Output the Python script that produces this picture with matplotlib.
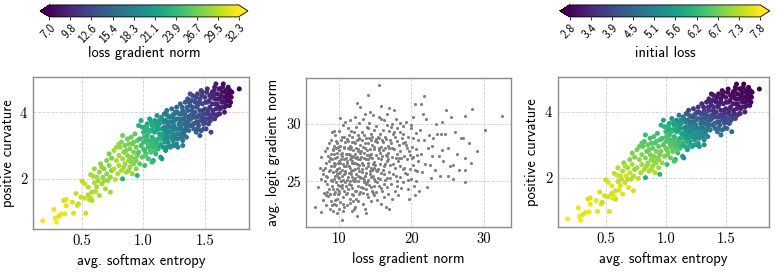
import numpy as np
import matplotlib
matplotlib.use('Agg')
import matplotlib.pyplot as plt
from matplotlib.colors import Normalize

# ---- outer panels: one point per run ----
entropy = [
    0.18, 0.27, 0.28, 0.29, 0.31, 0.33, 0.35, 0.37, 0.37, 0.36, 0.43, 0.45, 0.46, 0.47, 0.49, 0.42,
    0.53, 0.52, 0.55, 0.56, 0.58, 0.50, 0.52, 0.57, 0.59, 0.60, 0.62, 0.61, 0.63, 0.64, 0.65, 0.66, 0.67, 0.68,
    0.69, 0.70, 0.70, 0.71, 0.72, 0.73, 0.74, 0.74, 0.60, 0.62, 0.66, 0.55, 0.58, 0.64, 0.68, 0.72, 0.73, 0.57,
    0.76, 0.76, 0.77, 0.78, 0.79, 0.80, 0.80, 0.81, 0.82, 0.82, 0.83, 0.83, 0.84, 0.85, 0.85, 0.86, 0.87, 0.87,
    0.88, 0.89, 0.89, 0.90, 0.90, 0.91, 0.91, 0.92, 0.92, 0.93, 0.93, 0.94, 0.94, 0.95, 0.95, 0.78, 0.80, 0.84,
    0.86, 0.88, 0.90, 0.92, 0.94, 0.95, 0.88, 0.83,
    0.96, 0.96, 0.97, 0.97, 0.98, 0.98, 0.99, 1.00, 1.00, 1.01, 1.01, 1.02, 1.02, 1.03, 1.03, 1.04, 1.04, 1.05,
    1.05, 1.06, 1.06, 1.07, 1.07, 1.08, 1.08, 1.09, 1.09, 1.10, 1.10, 1.11, 1.11, 1.12, 1.12, 1.13, 1.13, 1.14,
    1.14, 1.15, 1.15, 0.99, 1.00, 1.02, 1.04, 1.06, 1.08, 1.10, 1.12, 1.14, 1.05, 1.09, 1.13, 1.01, 1.15, 1.07,
    1.16, 1.16, 1.17, 1.17, 1.18, 1.18, 1.19, 1.19, 1.20, 1.20, 1.21, 1.21, 1.22, 1.22, 1.23, 1.23, 1.24, 1.24,
    1.25, 1.25, 1.26, 1.26, 1.27, 1.27, 1.28, 1.28, 1.29, 1.29, 1.30, 1.30, 1.31, 1.31, 1.32, 1.32, 1.33, 1.33,
    1.34, 1.34, 1.35, 1.35, 1.17, 1.19, 1.21, 1.23, 1.25, 1.27, 1.29, 1.31, 1.33, 1.18, 1.22, 1.26, 1.30, 1.20,
    1.24, 1.28, 1.32,
    1.36, 1.36, 1.37, 1.37, 1.38, 1.38, 1.39, 1.40, 1.40, 1.41, 1.41, 1.42, 1.42, 1.43, 1.43, 1.44, 1.44, 1.45,
    1.45, 1.46, 1.46, 1.47, 1.47, 1.48, 1.48, 1.49, 1.49, 1.50, 1.50, 1.51, 1.51, 1.52, 1.52, 1.53, 1.53, 1.54,
    1.54, 1.55, 1.55, 1.38, 1.39, 1.43, 1.47, 1.40, 1.44, 1.48, 1.52, 1.36, 1.50, 1.46,
    1.56, 1.56, 1.57, 1.58, 1.58, 1.59, 1.60, 1.60, 1.61, 1.62, 1.62, 1.63, 1.64, 1.64, 1.65, 1.66, 1.66, 1.67,
    1.68, 1.69, 1.70, 1.71, 1.72, 1.78, 1.57, 1.59, 1.61, 1.63, 1.67, 1.70,
    1.005, 1.015, 1.025, 1.035, 1.045, 1.055, 1.065, 1.075, 1.085, 1.095, 1.105, 1.115, 1.125, 1.135, 1.145,
    1.155, 1.165, 1.175, 1.185, 1.195, 1.205, 1.215, 1.225, 1.235, 1.245, 1.255, 1.265, 1.275, 1.285, 1.295,
    1.305, 1.315, 1.325, 1.335, 1.345, 1.355, 1.365, 1.375, 1.385, 1.395, 1.405, 1.415, 1.425, 1.435, 1.445,
    1.455, 1.465, 1.475, 1.485, 1.495, 1.505, 1.515, 1.525, 1.535, 1.545, 1.555, 1.565, 1.575, 1.585, 1.595,
    1.605, 1.615, 1.625, 1.635, 1.645, 1.655, 1.665, 1.675, 1.685, 1.695, 1.705, 1.715,
    1.31, 1.34, 1.37, 1.41, 1.44, 1.49, 1.53, 1.58, 1.62, 1.66, 1.21, 1.25, 1.27, 1.19,
]
curvature = [
    0.74, 1.08, 0.82, 0.70, 0.88, 0.94, 1.35, 1.38, 1.19, 0.95, 0.97, 1.56, 1.20, 1.25, 1.45, 1.30,
    0.97, 1.42, 1.52, 1.37, 1.35, 1.93, 1.86, 2.13, 2.08, 1.88, 1.76, 1.62, 1.95, 2.20, 2.45, 1.85, 2.05, 2.30,
    1.70, 2.55, 2.15, 1.95, 2.40, 1.60, 2.25, 2.62, 2.30, 2.05, 2.35, 1.75, 1.60, 1.50, 1.95, 2.75, 2.05, 1.42,
    2.30, 2.85, 1.98, 2.55, 2.15, 2.70, 2.40, 2.95, 3.10, 2.25, 2.00, 2.60, 2.80, 2.45, 3.00, 2.20, 2.70, 3.20,
    2.55, 2.90, 2.35, 3.25, 2.65, 2.15, 3.05, 2.80, 2.45, 3.35, 2.60, 2.95, 2.30, 3.15, 2.70, 2.95, 3.05, 2.35,
    2.85, 3.05, 2.50, 3.10, 2.55, 2.10, 2.25, 3.30,
    3.60, 2.80, 3.20, 2.45, 3.75, 3.00, 2.65, 3.40, 2.90, 3.55, 2.40, 3.15, 2.75, 3.65, 3.30, 2.95, 2.60, 3.80,
    3.45, 3.10, 2.80, 3.60, 3.25, 2.95, 2.55, 3.75, 3.40, 3.10, 2.75, 3.90, 3.55, 3.20, 2.90, 3.65, 3.35, 3.05,
    2.65, 3.80, 3.50, 3.55, 3.10, 3.45, 3.15, 3.45, 3.20, 3.45, 3.50, 3.30, 3.00, 3.00, 3.00, 2.85, 2.60, 2.50,
    3.20, 2.95, 3.95, 3.55, 3.30, 2.85, 4.05, 3.70, 3.40, 3.10, 3.85, 3.55, 3.25, 2.95, 4.10, 3.70, 3.45, 3.15,
    3.95, 3.60, 3.30, 3.00, 4.15, 3.80, 3.50, 3.20, 3.95, 3.65, 3.35, 4.25, 3.80, 3.50, 3.15, 4.05, 3.65, 3.35,
    4.30, 3.90, 3.55, 3.25, 3.40, 3.20, 3.40, 3.55, 3.80, 3.35, 3.50, 3.95, 3.80, 3.75, 3.85, 4.00, 3.70, 3.60,
    3.00, 2.95, 3.00,
    4.40, 4.05, 3.75, 3.45, 4.20, 3.90, 3.60, 4.50, 4.15, 3.85, 3.50, 4.30, 4.00, 3.70, 3.40, 4.55, 4.20, 3.90,
    3.60, 4.40, 4.05, 3.75, 3.45, 4.60, 4.25, 3.95, 3.65, 4.45, 4.10, 3.80, 3.50, 4.70, 4.30, 3.95, 3.65, 4.50,
    4.15, 3.85, 3.40, 4.55, 4.35, 4.45, 4.65, 3.95, 3.85, 3.85, 3.95, 3.85, 3.70, 3.30,
    4.60, 4.25, 3.95, 4.75, 4.40, 4.10, 4.55, 4.25, 3.95, 4.70, 4.40, 4.15, 4.60, 4.30, 4.85, 4.45, 4.15, 4.65,
    4.35, 4.75, 4.50, 4.30, 4.60, 4.70, 4.50, 4.85, 4.15, 4.50, 4.45, 4.20,
    3.25, 2.70, 3.55, 3.05, 3.40, 2.85, 3.70, 3.05, 3.55, 2.85, 3.65, 3.05, 3.75, 3.20, 3.85,
    3.35, 3.70, 3.10, 3.50, 3.90, 3.25, 3.70, 3.40, 3.90, 3.30, 3.75, 3.50, 4.00, 3.35, 3.80,
    3.55, 4.15, 3.45, 3.95, 3.70, 4.15, 3.60, 4.30, 3.80, 4.05, 3.65, 4.35, 3.85, 4.15, 3.70,
    4.30, 3.90, 4.50, 4.05, 3.80, 4.30, 4.60, 4.05, 4.35, 3.75, 4.45, 4.05, 4.65, 4.25, 3.90,
    4.40, 4.70, 4.10, 4.35, 4.75, 4.30, 4.60, 4.20, 4.55, 4.35, 4.65, 4.45,
    3.25, 3.45, 3.60, 3.65, 3.50, 3.50, 3.80, 3.80, 3.95, 4.00, 3.00, 3.20, 3.05, 2.95,
]
# colour of the left panel: loss gradient norm
loss_grad_norm = [
    32.0, 31.5, 31.8, 32.2, 31.0, 31.4, 30.5, 31.0, 31.2, 31.6, 30.8, 30.2, 30.6, 30.0, 29.8, 30.9,
    30.5, 30.1, 29.6, 29.9, 29.2, 29.5, 30.0, 28.8, 29.0, 29.3, 28.9, 29.4, 28.6, 28.2, 27.8, 28.7, 28.4, 27.9,
    28.8, 27.5, 28.1, 28.3, 27.6, 28.5, 27.4, 27.0, 28.6, 28.9, 28.0, 29.5, 29.1, 29.0, 28.2, 27.2, 27.9, 29.7,
    29.5, 29.0, 29.9, 29.1, 29.5, 28.7, 29.2, 28.1, 27.5, 29.1, 23.0, 28.5, 27.9, 28.6, 27.3, 28.9, 27.8, 27.0,
    28.1, 27.4, 28.4, 26.5, 27.6, 28.3, 26.9, 27.2, 27.8, 26.1, 27.4, 26.6, 27.7, 26.3, 27.0, 28.5, 28.2, 28.8,
    27.6, 27.2, 27.9, 26.7, 27.3, 23.5, 28.2, 26.7,
    23.0, 25.5, 24.3, 26.1, 22.5, 24.9, 25.7, 23.5, 25.0, 22.7, 24.5, 24.1, 25.1, 22.0, 23.3, 24.4, 25.0, 21.3,
    22.5, 23.7, 24.5, 21.7, 23.0, 23.8, 22.5, 21.0, 22.1, 23.0, 23.5, 20.3, 21.4, 22.3, 23.1, 20.8, 21.7, 22.4,
    21.0, 20.0, 20.9, 22.9, 24.5, 23.1, 23.9, 22.7, 23.4, 21.9, 21.3, 21.9, 24.1, 23.4, 22.1, 24.7, 20.7, 24.0,
    19.5, 20.0, 17.5, 18.6, 19.0, 19.6, 17.0, 18.0, 18.6, 19.2, 17.2, 18.0, 18.5, 19.0, 16.4, 17.3, 17.8, 18.3,
    16.5, 17.1, 17.6, 18.2, 15.8, 16.6, 17.0, 17.6, 16.0, 16.6, 17.0, 15.2, 15.8, 16.4, 17.0, 15.3, 15.9, 16.4,
    14.6, 15.2, 15.7, 16.3, 19.0, 19.3, 18.5, 17.8, 16.8, 17.6, 17.0, 15.5, 15.6, 17.8, 17.0, 16.2, 16.2, 18.2,
    18.6, 18.0, 17.5,
    13.8, 14.5, 15.0, 15.6, 14.0, 14.6, 15.0, 13.0, 13.6, 14.2, 14.8, 12.8, 13.4, 14.0, 14.6, 12.2, 12.8, 13.3,
    13.8, 12.0, 12.6, 13.0, 13.5, 11.4, 11.9, 12.4, 12.8, 11.0, 11.6, 12.0, 12.5, 10.4, 10.9, 11.3, 11.8, 10.2,
    10.7, 11.0, 12.0, 13.5, 13.8, 12.6, 11.5, 14.0, 13.6, 12.6, 11.4, 14.8, 12.3, 14.0,
    9.6, 10.0, 10.4, 9.0, 9.4, 9.8, 8.8, 9.2, 9.6, 8.4, 8.7, 9.0, 8.2, 8.5, 7.8, 8.0, 8.4, 7.6,
    7.8, 7.4, 7.5, 7.6, 7.2, 7.0, 9.4, 8.8, 9.5, 8.6, 7.9, 7.8,
    24.5, 26.1, 23.5, 25.1, 23.9, 25.5, 22.5, 24.5, 22.9, 24.9, 22.1, 23.9, 21.3, 23.3, 20.5,
    22.1, 19.0, 20.8, 19.4, 18.0, 19.8, 18.4, 19.0, 17.4, 18.8, 17.4, 17.8, 16.4, 17.8, 16.4,
    16.8, 15.2, 16.6, 15.4, 15.6, 14.6, 15.4, 13.8, 14.6, 14.0, 14.6, 13.2, 13.8, 13.0, 13.8,
    12.4, 13.0, 11.6, 12.2, 12.6, 11.2, 10.6, 11.4, 10.6, 11.6, 10.0, 10.2, 9.2, 9.6, 10.2,
    9.0, 8.6, 9.2, 8.8, 8.0, 8.4, 7.8, 8.2, 7.6, 7.6, 7.2, 7.4,
    17.2, 16.2, 15.2, 14.4, 14.2, 13.2, 11.6, 10.8, 9.8, 8.9, 19.6, 18.6, 18.6, 20.0,
]
# colour of the right panel: initial loss
initial_loss = [
    7.8, 7.7, 7.8, 7.8, 7.6, 7.7, 7.5, 7.6, 7.7, 7.7, 7.6, 7.5, 7.6, 7.4, 7.5, 7.7,
    7.6, 7.5, 7.4, 7.6, 7.3, 7.4, 7.6, 7.3, 7.5, 7.4, 7.5, 7.6, 7.3, 7.2, 7.0, 7.4, 7.5, 7.1,
    7.6, 6.9, 7.4, 7.3, 7.2, 7.5, 7.0, 6.9, 7.2, 7.4, 7.3, 7.6, 7.5, 7.6, 7.3, 6.8, 7.2, 7.7,
    7.1, 6.8, 7.3, 7.0, 7.2, 6.9, 7.1, 6.5, 6.4, 7.2, 5.9, 6.9, 6.7, 7.0, 6.6, 7.2, 6.8, 6.3,
    7.0, 6.7, 7.1, 6.4, 6.9, 7.2, 6.6, 6.8, 7.0, 6.2, 6.9, 6.6, 7.1, 6.4, 6.8, 6.7, 6.6, 7.1,
    6.7, 6.5, 7.0, 6.5, 6.9, 6.0, 7.2, 6.2,
    6.0, 6.8, 6.4, 7.0, 5.8, 6.6, 6.9, 6.2, 6.7, 6.0, 6.3, 6.4, 6.8, 5.7, 6.2, 6.6, 6.7, 5.5,
    6.0, 6.3, 6.6, 5.6, 6.1, 6.4, 5.9, 5.2, 5.9, 6.2, 6.3, 5.0, 5.6, 6.0, 6.2, 5.4, 5.8, 6.1,
    5.5, 4.9, 5.5, 6.1, 6.5, 6.0, 6.4, 5.9, 6.3, 5.7, 5.5, 5.8, 6.5, 6.3, 6.0, 6.7, 5.4, 6.4,
    5.6, 5.9, 4.3, 5.0, 5.5, 5.8, 3.9, 4.8, 5.3, 5.6, 4.4, 5.0, 5.4, 5.7, 3.7, 4.6, 5.1, 5.5,
    4.1, 4.8, 5.2, 5.6, 3.6, 4.4, 4.9, 5.3, 4.0, 4.6, 5.1, 3.4, 4.3, 4.8, 5.3, 3.8, 4.5, 5.0,
    3.3, 4.0, 4.7, 5.1, 5.4, 5.6, 5.2, 4.9, 4.5, 5.1, 4.8, 4.0, 4.2, 4.6, 4.2, 3.9, 4.5, 4.9,
    5.7, 5.5, 5.4,
    3.2, 3.7, 4.3, 4.8, 3.4, 4.0, 4.5, 3.1, 3.5, 3.9, 4.6, 3.2, 3.6, 4.2, 4.8, 3.0, 3.4, 3.8,
    4.3, 3.1, 3.5, 4.0, 4.6, 3.0, 3.3, 3.7, 4.2, 3.1, 3.4, 3.9, 4.5, 2.9, 3.2, 3.6, 4.1, 3.0,
    3.3, 3.7, 4.6, 3.1, 3.3, 3.1, 3.0, 3.8, 4.0, 3.8, 3.6, 4.1, 4.0, 4.7,
    2.9, 3.2, 3.5, 2.9, 3.0, 3.3, 2.9, 3.1, 3.4, 2.8, 3.0, 3.2, 2.9, 3.0, 2.8, 2.9, 3.1, 2.8,
    2.9, 2.8, 2.8, 2.9, 2.8, 2.8, 3.0, 2.8, 3.2, 2.9, 2.9, 3.0,
    6.4, 6.8, 6.1, 6.5, 6.2, 6.7, 5.7, 6.4, 5.9, 6.6, 5.6, 6.3, 5.2, 6.0, 4.9,
    5.7, 5.0, 5.9, 5.3, 4.4, 5.6, 4.7, 5.3, 4.2, 5.4, 4.6, 5.0, 3.8, 5.2, 4.3,
    4.8, 3.5, 5.0, 4.0, 4.5, 3.5, 4.6, 3.3, 4.1, 3.6, 4.4, 3.2, 3.9, 3.4, 4.2,
    3.2, 3.7, 3.0, 3.4, 3.9, 3.2, 2.9, 3.4, 3.1, 3.9, 3.0, 3.3, 2.9, 3.1, 3.5,
    3.0, 2.8, 3.2, 3.0, 2.8, 3.0, 2.9, 3.1, 2.9, 2.9, 2.8, 2.8,
    5.2, 4.9, 4.7, 4.5, 4.6, 4.4, 4.0, 3.8, 3.5, 3.3, 5.8, 5.5, 5.6, 5.9,
]

# ---- middle panel ----
grad_norm = [
    7.2, 7.5, 7.6, 7.8, 7.9, 8.0, 8.1, 8.2, 8.3, 8.3, 8.4, 8.5, 8.6, 8.6, 8.7, 8.8, 8.8, 8.9, 8.9, 9.0,
    8.4, 8.7, 7.9, 8.2, 9.0, 6.8, 7.6, 7.4,
    9.1, 9.1, 9.2, 9.2, 9.3, 9.3, 9.4, 9.4, 9.5, 9.5, 9.5, 9.6, 9.6, 9.7, 9.7, 9.8, 9.8, 9.9, 9.9, 10.0,
    10.0, 10.0, 10.1, 10.1, 10.2, 10.2, 10.3, 10.3, 10.4, 10.4, 10.5, 10.5, 10.6, 10.6, 10.7, 10.7, 10.8, 10.8,
    10.9, 10.9, 11.0, 11.0, 9.2, 9.4, 9.6, 9.8, 10.0, 10.2, 10.4, 10.6, 10.8, 11.0, 9.5, 9.9, 10.3, 10.7,
    9.3, 9.7, 10.1, 10.5, 10.9, 9.6, 10.0, 10.4, 10.8, 9.8, 10.6, 10.2, 9.1, 10.9,
    11.1, 11.1, 11.2, 11.2, 11.3, 11.3, 11.4, 11.4, 11.5, 11.5, 11.6, 11.6, 11.7, 11.7, 11.8, 11.8, 11.9, 11.9,
    12.0, 12.0, 12.1, 12.1, 12.2, 12.2, 12.3, 12.3, 12.4, 12.4, 12.5, 12.5, 12.5, 12.6, 12.6, 12.7, 12.7, 12.8,
    12.8, 12.9, 12.9, 13.0, 13.0, 11.2, 11.4, 11.6, 11.8, 12.0, 12.2, 12.4, 12.6, 12.8, 11.3, 11.5, 11.7, 11.9,
    12.1, 12.3, 12.5, 12.7, 12.9, 11.1, 11.5, 11.9, 12.3, 12.7, 11.6, 12.0, 12.4, 12.8, 11.4, 12.2, 11.8, 12.6,
    13.0, 12.1, 11.7,
    13.1, 13.1, 13.2, 13.2, 13.3, 13.3, 13.4, 13.4, 13.5, 13.5, 13.6, 13.6, 13.7, 13.7, 13.8, 13.8, 13.9, 13.9,
    14.0, 14.0, 14.0, 14.1, 14.1, 14.2, 14.2, 14.3, 14.3, 14.4, 14.4, 14.5, 14.5, 14.6, 14.6, 14.7, 14.7, 14.8,
    14.8, 14.9, 14.9, 15.0, 13.2, 13.4, 13.6, 13.8, 14.0, 14.2, 14.4, 14.6, 14.8, 13.5, 13.9, 14.3, 14.7, 13.3,
    13.7, 14.1, 14.5, 14.9, 13.6, 14.9,
    15.1, 15.1, 15.2, 15.2, 15.3, 15.3, 15.4, 15.5, 15.5, 15.6, 15.6, 15.7, 15.7, 15.8, 15.8, 15.9, 15.9, 16.0,
    16.0, 16.1, 16.2, 16.2, 16.3, 16.4, 16.4, 16.5, 16.5, 16.6, 16.7, 16.7, 16.8, 16.9, 16.9, 17.0, 17.0, 15.4,
    15.8, 16.1, 16.6, 15.3, 16.3, 16.8, 15.9, 15.6, 16.6,
    17.1, 17.1, 17.2, 17.3, 17.3, 17.4, 17.5, 17.5, 17.6, 17.6, 17.7, 17.8, 17.8, 17.9, 18.0, 18.0, 18.1, 18.2,
    18.2, 18.3, 18.4, 18.5, 18.5, 18.6, 18.7, 18.8, 18.9, 18.9, 19.0, 17.4, 17.9, 18.4, 18.8, 17.2, 18.1,
    19.1, 19.2, 19.3, 19.4, 19.5, 19.6, 19.7, 19.8, 19.9, 20.0, 20.1, 20.2, 20.3, 20.4, 20.5, 20.5, 20.6, 20.7,
    20.8, 20.9, 21.0, 19.4, 20.0, 19.6, 20.3,
    21.1, 21.2, 21.4, 21.4, 21.5, 21.7, 21.8, 21.9, 22.0, 22.2, 22.3, 22.5, 22.6, 22.7, 22.9, 23.0, 21.6, 22.8,
    23.3, 23.4, 23.6, 23.8, 24.0, 24.1, 24.3, 24.4, 24.6, 24.8, 25.0, 25.1, 25.3, 25.5, 25.7, 25.8, 26.0, 26.3,
    26.6, 26.8, 27.1, 27.4, 27.4, 27.4, 27.4, 28.0, 28.2, 28.4, 29.1, 30.1, 32.5, 24.2,
    9.05, 9.15, 9.25, 9.35, 9.45, 9.55, 9.65, 9.75, 9.85, 9.95, 10.05, 10.15, 10.25, 10.35, 10.45, 10.55,
    10.65, 10.75, 10.85, 10.95, 11.05, 11.15, 11.25, 11.35, 11.45, 11.55, 11.65, 11.75, 11.85, 11.95,
    12.05, 12.15, 12.25, 12.35, 12.45, 12.55, 12.65, 12.75, 12.85, 12.95, 13.05, 13.15, 13.25, 13.35,
    13.45, 13.55, 13.65, 13.75, 13.85, 13.95, 14.05, 14.15, 14.25, 14.35, 14.45, 14.55, 14.65, 14.75,
    14.85, 14.95, 15.05, 15.15, 15.25, 15.35, 15.45, 15.55, 15.65, 15.75, 15.85, 15.95, 16.05, 16.15,
    16.25, 16.35, 16.45, 16.55, 16.65, 16.75, 16.85, 16.95, 17.05, 17.25, 17.45, 17.65, 17.85, 18.05,
    18.25, 18.45, 18.65, 18.85, 19.05, 19.25, 19.45, 19.65, 19.85, 20.05, 20.25, 20.45, 20.65, 20.85,
    8.15, 8.45, 8.75, 8.95, 8.35, 8.05, 8.55, 8.85, 9.05, 9.35,
]
logit_grad_norm = [
    24.5, 27.1, 25.2, 23.4, 26.0, 24.0, 27.6, 25.5, 22.9, 26.6, 24.8, 23.7, 28.3, 25.9, 24.3, 27.0, 22.6, 25.1,
    26.3, 23.3, 27.9, 26.8, 25.6, 23.8, 28.6, 22.8, 22.3, 26.2,
    24.6, 26.9, 22.4, 25.8, 28.1, 23.9, 27.4, 25.2, 29.0, 24.1, 26.5, 22.9, 28.5, 25.6, 27.1, 23.5, 26.1, 24.7,
    28.0, 22.6, 25.3, 27.7, 29.4, 24.0, 26.6, 23.2, 28.6, 25.0, 27.2, 21.6, 24.4, 26.0, 29.9, 23.6, 27.9, 25.6,
    22.8, 26.9, 24.9, 28.4, 23.9, 26.3, 27.8, 23.0, 25.9, 27.5, 24.2, 25.8, 28.9, 25.1, 24.2, 27.4, 25.5, 26.6,
    26.9, 26.3, 26.3, 24.3, 25.7, 27.5, 25.7, 27.9, 26.2, 24.7, 28.0, 22.2, 22.4, 30.5, 29.3, 30.2,
    25.1, 28.7, 22.9, 26.8, 24.3, 29.6, 27.4, 25.7, 23.5, 28.1, 26.2, 30.3, 24.7, 27.0, 22.4, 25.4, 28.9, 26.6,
    23.8, 27.7, 25.0, 29.3, 26.1, 24.2, 28.3, 22.8, 27.0, 25.6, 31.8, 22.0, 26.5, 24.6, 29.0, 27.6, 23.3, 25.9,
    30.1, 26.9, 24.1, 31.5, 28.2, 24.0, 26.3, 27.8, 23.9, 26.0, 27.4, 23.5, 26.9, 28.7, 27.9, 25.0, 29.4, 24.4,
    27.1, 25.3, 28.6, 25.0, 27.5, 26.6, 26.9, 27.2, 26.6, 26.2, 23.1, 25.1, 29.7, 23.9, 29.0, 30.6, 28.4, 27.8,
    25.4, 22.6, 25.9,
    24.5, 27.1, 29.3, 25.8, 23.0, 28.0, 26.4, 30.4, 24.9, 27.5, 22.6, 25.5, 28.8, 26.9, 22.2, 24.3, 29.7, 27.3,
    32.5, 25.1, 28.3, 23.6, 26.6, 30.1, 24.7, 27.8, 25.9, 23.3, 29.1, 26.2, 28.6, 24.2, 27.0, 30.8, 25.5, 28.0,
    23.8, 26.7, 29.5, 25.0, 26.6, 24.0, 27.9, 25.7, 26.9, 27.3, 25.4, 28.2, 26.2, 29.0, 23.9, 31.0, 24.0, 25.3,
    24.8, 29.6, 27.4, 24.6, 30.9, 27.8,
    27.3, 24.1, 29.8, 26.0, 28.4, 23.4, 25.3, 30.6, 27.7, 33.4, 24.6, 26.5, 29.1, 23.0, 28.0, 31.6, 25.7, 27.2,
    24.2, 29.5, 26.3, 30.3, 23.6, 27.9, 25.1, 22.8, 28.7, 26.8, 24.5, 30.9, 27.5, 25.8, 29.4, 31.4, 22.6, 28.9,
    26.9, 28.4, 29.9, 25.9, 25.6, 23.9, 30.4, 27.9, 27.2,
    26.4, 28.6, 24.8, 30.0, 27.1, 23.5, 29.1, 25.6, 31.2, 27.8, 24.2, 28.9, 26.2, 30.4, 25.0, 27.4, 29.6, 23.8,
    26.8, 28.2, 25.4, 30.1, 27.6, 24.4, 28.8, 26.1, 29.8, 24.9, 27.2, 27.9, 27.0, 29.3, 28.3, 29.7, 24.6,
    28.4, 25.7, 30.2, 26.9, 24.3, 28.9, 23.5, 27.3, 29.6, 25.2, 28.0, 26.4, 30.6, 24.6, 31.7, 23.8, 27.8, 29.2,
    25.9, 28.6, 26.8, 27.9, 29.9, 25.1, 27.1,
    24.2, 29.5, 31.7, 27.4, 25.8, 28.6, 32.4, 26.5, 30.4, 24.5, 27.9, 29.0, 26.4, 25.3, 28.1, 28.8, 30.9, 27.2,
    26.0, 30.0, 29.1, 27.2, 25.5, 29.1, 30.2, 26.8, 29.1, 31.2, 25.5, 27.9, 26.3, 30.6, 26.4, 25.2, 29.3, 27.4,
    26.0, 28.8, 28.8, 30.7, 27.0, 26.0, 24.9, 28.3, 26.6, 31.3, 27.6, 29.5, 30.7, 27.7,
    25.0, 27.7, 24.3, 26.6, 23.4, 27.0, 24.9, 28.3, 25.4, 23.9, 26.8, 28.1, 24.6, 27.4, 25.5, 23.0,
    26.5, 28.9, 25.9, 27.0, 24.6, 27.4, 25.4, 28.5, 24.8, 27.3, 25.6, 28.0, 26.8, 23.3,
    28.4, 26.6, 25.0, 27.9, 24.2, 27.1, 25.5, 28.8, 26.4, 25.3, 27.6, 26.1, 28.6, 24.4,
    27.0, 25.1, 28.3, 26.2, 27.7, 24.9, 26.3, 28.8, 25.6, 27.1, 24.5, 26.0, 28.9, 26.5,
    25.2, 28.5, 26.4, 28.7, 24.9, 27.0, 26.1, 28.8, 25.2, 27.5, 24.4, 28.6, 26.0, 27.7,
    24.8, 28.9, 26.5, 27.3, 25.3, 28.1, 26.9, 27.9, 25.3, 28.3, 26.5, 29.3, 25.5, 28.5,
    27.0, 26.3, 27.0, 29.1, 26.2, 28.2, 25.6, 27.6, 26.1, 27.0, 28.8, 26.0, 25.0, 27.3,
    26.2, 25.4, 23.9, 27.4, 24.1, 25.0, 27.2, 26.0, 22.9, 29.4,
]

# colour bar ranges (from the tick labels)
grad_lim = [7.0, 32.34]
loss_lim = [2.82, 7.84]

#%% plotting
plt.rcParams['font.family'] = 'cmss10'
plt.rcParams['axes.formatter.use_mathtext'] = True
plt.rcParams['mathtext.fontset'] = 'cm'

fig = plt.figure(figsize=(7.77, 2.73), dpi=100)
ax_l = fig.add_axes([0.0425, 0.161, 0.278, 0.557])
ax_m = fig.add_axes([0.394, 0.168, 0.264, 0.546])
ax_r = fig.add_axes([0.718, 0.168, 0.2716, 0.549])
cax_l = fig.add_axes([0.0515, 0.938, 0.2677, 0.044])
cax_r = fig.add_axes([0.7207, 0.938, 0.270, 0.044])


def style(ax, xticks, yticks, fmt):
    ax.grid(True, ls='--', lw=0.6, color='#d0d0d0')
    ax.set_axisbelow(True)
    for s in ax.spines.values():
        s.set_color('#8c8c8c')
        s.set_linewidth(1.0)
    ax.set_xticks(xticks)
    ax.set_yticks(yticks)
    ax.set_xticklabels([fmt % t for t in xticks], fontfamily='cmr10', fontsize=10.5)
    ax.set_yticklabels(['%d' % t for t in yticks], fontfamily='cmr10', fontsize=10.5)
    ax.tick_params(length=0, pad=4)


def add_cbar(sc, cax, lim, label):
    cb = fig.colorbar(sc, cax=cax, orientation='horizontal', extend='both')
    ticks = np.linspace(lim[0], lim[1], 10)
    cb.set_ticks(ticks, labels=['%.1f' % t for t in ticks])
    cb.ax.tick_params(axis='x', length=2.5, width=0.6, pad=1, labelsize=8.5, labelrotation=45)
    plt.setp(cb.ax.get_xticklabels(), ha='right', rotation_mode='anchor')
    cb.outline.set_linewidth(0.6)
    cb.set_label(label, fontsize=10.5, va='top')
    cb.ax.xaxis.set_label_coords(0.5, -2.45)
    return cb


sc_l = ax_l.scatter(entropy, curvature, c=loss_grad_norm, cmap='viridis',
                    norm=Normalize(*grad_lim), s=13, linewidths=0)
style(ax_l, [0.5, 1.0, 1.5], [2, 4], '%.1f')
ax_l.set_xlabel('avg. softmax entropy', fontsize=10.5)
ax_l.set_ylabel('positive curvature', fontsize=10.5)
add_cbar(sc_l, cax_l, grad_lim, 'loss gradient norm')

ax_m.scatter(grad_norm, logit_grad_norm, color='#7f7f7f', s=5, linewidths=0)
style(ax_m, [10, 20, 30], [25, 30], '%d')
ax_m.set_xlabel('loss gradient norm', fontsize=10.5)
ax_m.set_ylabel('avg. logit gradient norm', fontsize=10.5)

sc_r = ax_r.scatter(entropy, curvature, c=initial_loss, cmap='viridis',
                    norm=Normalize(*loss_lim), s=13, linewidths=0)
style(ax_r, [0.5, 1.0, 1.5], [2, 4], '%.1f')
ax_r.set_xlabel('avg. softmax entropy', fontsize=10.5)
ax_r.set_ylabel('positive curvature', fontsize=10.5)
add_cbar(sc_r, cax_r, loss_lim, 'initial loss')

fig.savefig('out.png', dpi=100)
